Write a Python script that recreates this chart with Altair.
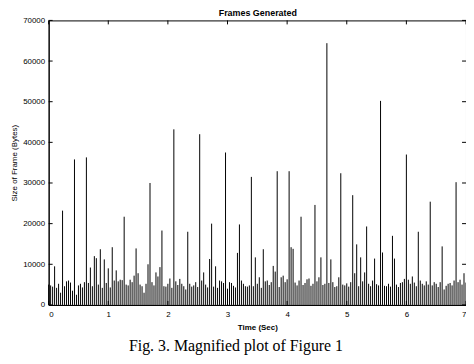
import altair as alt
import pandas as pd

fps = 30
sizes = [
    5000, 4800, 4500, 9500, 4200, 5200, 3000, 23200, 4600, 5800,
    6000, 5500, 3500, 35800, 2500, 4800, 5200, 4300, 5600, 36300,
    5400, 9200, 4600, 12000, 11500, 5000, 13700, 4200, 11200, 5400,
    9000, 4300, 14200, 6000, 8500, 5800, 6200, 6100, 21700, 5000,
    4800, 6200, 5600, 7200, 13900, 7800, 5000, 4600, 3000, 5200,
    10000, 30000, 5600, 4800, 8000, 7000, 9300, 18300, 4600, 4500,
    5200, 6500, 4200, 43200, 5800, 4900, 6400, 5200, 4600, 3800,
    18000, 5200, 4500, 4800, 5600, 4400, 42000, 6000, 8000, 5000,
    4300, 11300, 20000, 4500, 9500, 4200, 6000, 5800, 5400, 37500,
    4000, 5600, 5400, 4700, 4300, 12800, 19800, 6000, 5200, 4600,
    4500, 4800, 31500, 4600, 11700, 5200, 6800, 4200, 13700, 5800,
    6000, 4900, 5600, 9600, 8200, 32900, 4400, 6800, 7200, 5600,
    6300, 32900, 14200, 13800, 5500, 4800, 6000, 21700, 4900, 5400,
    6300, 6500, 4700, 5200, 24600, 5800, 6800, 11700, 4900, 5200,
    64400, 5400, 11200, 5600, 4400, 4600, 6800, 32400, 5000, 4800,
    5300, 4500, 5600, 27000, 7800, 14900, 4600, 11700, 5800, 8000,
    19300, 5200, 4600, 6000, 11400, 5100, 4800, 50200, 12900, 4700,
    4600, 5200, 4500, 17000, 11400, 5000, 4400, 5400, 5600, 6400,
    37000, 6200, 5200, 7000, 5500, 4600, 18000, 6000, 5200, 4800,
    5800, 5000, 25400, 4800, 5600, 5200, 4400, 5600, 14400, 3800,
    4700, 5200, 5400, 4800, 6000, 30200, 5600, 6200, 5000, 7800, 5500,
]
times = [i / fps for i in range(len(sizes))]

y_ticks = [0, 10000, 20000, 30000, 40000, 50000, 60000, 70000]
x_ticks = [0, 1, 2, 3, 4, 5, 6, 7]

title_text = "Frames Generated"
x_title = "Time (Sec)"
y_title = "Size of Frame (Bytes)"
caption = "Fig. 3. Magnified plot of Figure 1"

W, H = 421, 287
FONT = "Liberation Sans"

df = pd.DataFrame({"t": times, "size": sizes})
yt = pd.DataFrame({"v": y_ticks})
xt = pd.DataFrame({"v": x_ticks})

xscale = alt.Scale(domain=[0, 7], nice=False, zero=False)
yscale = alt.Scale(domain=[0, 70000], nice=False)

bars = alt.Chart(df).mark_rule(color="black", strokeWidth=1).encode(
    x=alt.X("t:Q", scale=xscale,
            axis=alt.Axis(values=x_ticks, format="d", title=x_title, ticks=False,
                          grid=False, domainColor="black", labelFontSize=8,
                          labelFont=FONT, labelColor="black", labelPadding=6,
                          titleFont=FONT, titleFontSize=8, titleFontWeight="bold",
                          titleColor="black", titlePadding=5)),
    y=alt.Y("size:Q", scale=yscale,
            axis=alt.Axis(values=y_ticks, format="d", title=y_title, ticks=False,
                          grid=False, domainColor="black", labelFontSize=8,
                          labelFont=FONT, labelColor="black", labelPadding=4,
                          titleFont=FONT, titleFontSize=8, titleFontWeight="normal",
                          titleColor="black", titlePadding=4)),
    y2=alt.datum(0),
)

ytick_l = alt.Chart(yt).mark_rule(color="black").encode(
    y=alt.Y("v:Q", scale=yscale), x=alt.value(0), x2=alt.value(4))
ytick_r = alt.Chart(yt).mark_rule(color="black").encode(
    y=alt.Y("v:Q", scale=yscale), x=alt.value(W - 4), x2=alt.value(W))
xtick_b = alt.Chart(xt).mark_rule(color="black").encode(
    x=alt.X("v:Q", scale=xscale), y=alt.value(H), y2=alt.value(H - 4))
xtick_t = alt.Chart(xt).mark_rule(color="black").encode(
    x=alt.X("v:Q", scale=xscale), y=alt.value(0), y2=alt.value(4))

ttl = alt.Chart(pd.DataFrame({"s": [title_text]})).mark_text(
    font=FONT, fontSize=9, fontWeight="bold", baseline="bottom", align="center", color="black"
).encode(text="s:N", x=alt.value(211), y=alt.value(-2))

cap = alt.Chart(pd.DataFrame({"s": [caption]})).mark_text(
    font="Liberation Serif", fontSize=16, baseline="top", align="center", color="black"
).encode(text="s:N", x=alt.value(189), y=alt.value(320))

chart = alt.layer(bars, ytick_l, ytick_r, xtick_b, xtick_t, ttl, cap).properties(
    width=W, height=H,
    autosize=alt.AutoSizeParams(type="none"),
    padding={"left": 41, "top": 11, "right": 0, "bottom": 50},
).configure_view(stroke="black", strokeWidth=1)

chart.save("out.html", embed_options={"renderer": "svg", "actions": False})
